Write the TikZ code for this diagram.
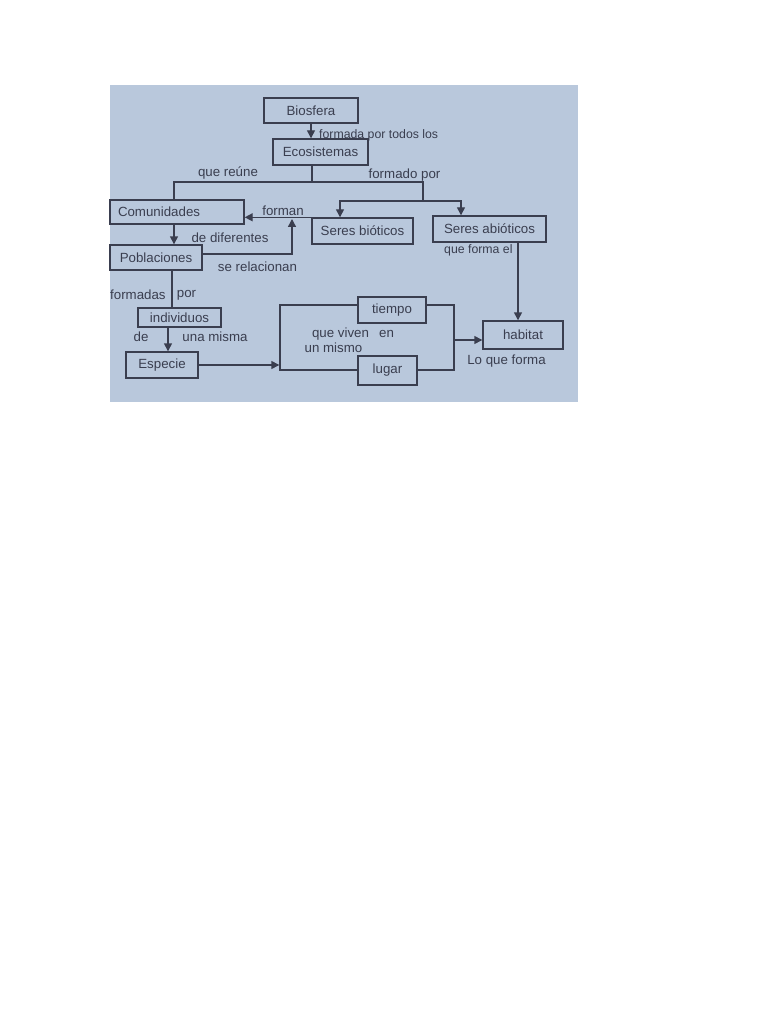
\documentclass[tikz,border=0pt]{standalone}
\usepackage{fontspec}
\setmainfont{Liberation Sans}
\usetikzlibrary{arrows.meta,calc}

\definecolor{photo}{HTML}{B9C8DC}
\definecolor{ink}{HTML}{3A3E4F}

\begin{document}
\begin{tikzpicture}[x=1pt,y=-1pt,
    font=\fontsize{13.3}{15}\selectfont,
    box/.style={draw=ink, line width=1.4pt, fill=photo, text=ink, inner sep=0pt},
    lbl/.style={text=ink, inner sep=0pt},
    small/.style={font=\fontsize{12.3}{14}\selectfont},
    link/.style={draw=ink, line width=1.4pt},
    arr/.style={link, -{Triangle[length=8pt,width=8pt]}}]

    % page and photo
    \fill[white] (0,0) rectangle (768,1024);
    \useasboundingbox (0,0) rectangle (768,1024);
    \fill[photo] (110,85) rectangle (578,402);

    % boxes
    \node[box, minimum width=94pt, minimum height=25pt] (biosfera) at (311,110.5) {Biosfera};
    \node[box, minimum width=95pt, minimum height=26pt] (ecosist) at (320.5,152) {Ecosistemas};
    \node[box, text width=118pt, inner xsep=8pt, align=left, minimum height=24pt] (comu) at (177,212) {Comunidades};
    \node[box, minimum width=101pt, minimum height=26pt] (bioticos) at (362.5,231) {Seres bióticos};
    \node[box, minimum width=113pt, minimum height=26pt] (abioticos) at (489.5,229) {Seres abióticos};
    \node[box, minimum width=92pt, minimum height=25pt] (pobla) at (156,257.5) {Poblaciones};
    \node[box, minimum width=83pt, minimum height=19pt] (indiv) at (179.5,317.5) {individuos};
    \node[box, minimum width=72pt, minimum height=26pt] (especie) at (162,365) {Especie};
    \node[box, minimum width=174pt, minimum height=65pt] (viven) at (367,337.5) {};
    \node[box, minimum width=68pt, minimum height=26pt] (tiempo) at (392,310) {tiempo};
    \node[box, minimum width=59pt, minimum height=29pt] (lugar) at (387.5,370.5) {lugar};
    \node[box, minimum width=80pt, minimum height=28pt] (habitat) at (523,335) {habitat};

    % connectors
    \coordinate (split) at (312,182);
    \coordinate (fork) at (423,201);
    \draw[arr] (biosfera.south) -- (biosfera.south |- ecosist.north);
    \draw[link] (split |- ecosist.south) -- (split);
    \draw[link] (split) -| ([xshift=-3pt]comu.north);
    \draw[link] (split) -| (fork);
    \draw[arr] (fork) -| ([xshift=-22.5pt]bioticos.north);
    \draw[arr] (fork) -| ([xshift=-28.5pt]abioticos.north);
    \draw[arr] (bioticos.north west) -- (bioticos.north west -| comu.east);
    \draw[arr] ([xshift=-3pt]comu.south) -- ([xshift=-3pt]comu.south |- pobla.north);
    \coordinate (relup) at (292,219);
    \draw[arr] ([yshift=3.5pt]pobla.east) -| (relup);
    \draw[link] ([xshift=16pt]pobla.south) -- ([xshift=16pt]pobla.south |- indiv.north);
    \draw[arr] ([xshift=-11.5pt]indiv.south) -- ([xshift=-11.5pt]indiv.south |- especie.north);
    \draw[arr] (especie.east) -- (especie.east -| viven.west);
    \draw[arr] ([yshift=-2.5pt]viven.east) -- ([yshift=-2.5pt]viven.east -| habitat.west);
    \draw[arr] ([xshift=28.5pt]abioticos.south) -- ([xshift=28.5pt]abioticos.south |- habitat.north);

    % link labels
    \node[lbl, small, anchor=west] (l1) at (319,135) {formada por todos los};
    \node[lbl] (l2) at (228,173) {que reúne};
    \node[lbl] (l3) at (404.5,175) {formado por};
    \node[lbl] (l4) at (283,210.5) {forman};
    \node[lbl] (l5) at (230,238) {de diferentes};
    \node[lbl] (l6) at (257.5,266.5) {se relacionan};
    \node[lbl, small, anchor=west] (l7) at (444,250.5) {que forma el};
    \node[lbl, anchor=west] (l8) at (110,295) {formadas};
    \node[lbl] (l9) at (186.5,295) {por};
    \node[lbl] (l10) at (141,336.5) {de};
    \node[lbl] (l11) at (215,336.5) {una misma};
    \node[lbl] (l12) at (340.5,334) {que viven};
    \node[lbl] (l13) at (386.5,334) {en};
    \node[lbl] (l14) at (333.5,348) {un mismo};
    \node[lbl] (l15) at (506.5,361) {Lo que forma};
\end{tikzpicture}
\end{document}
